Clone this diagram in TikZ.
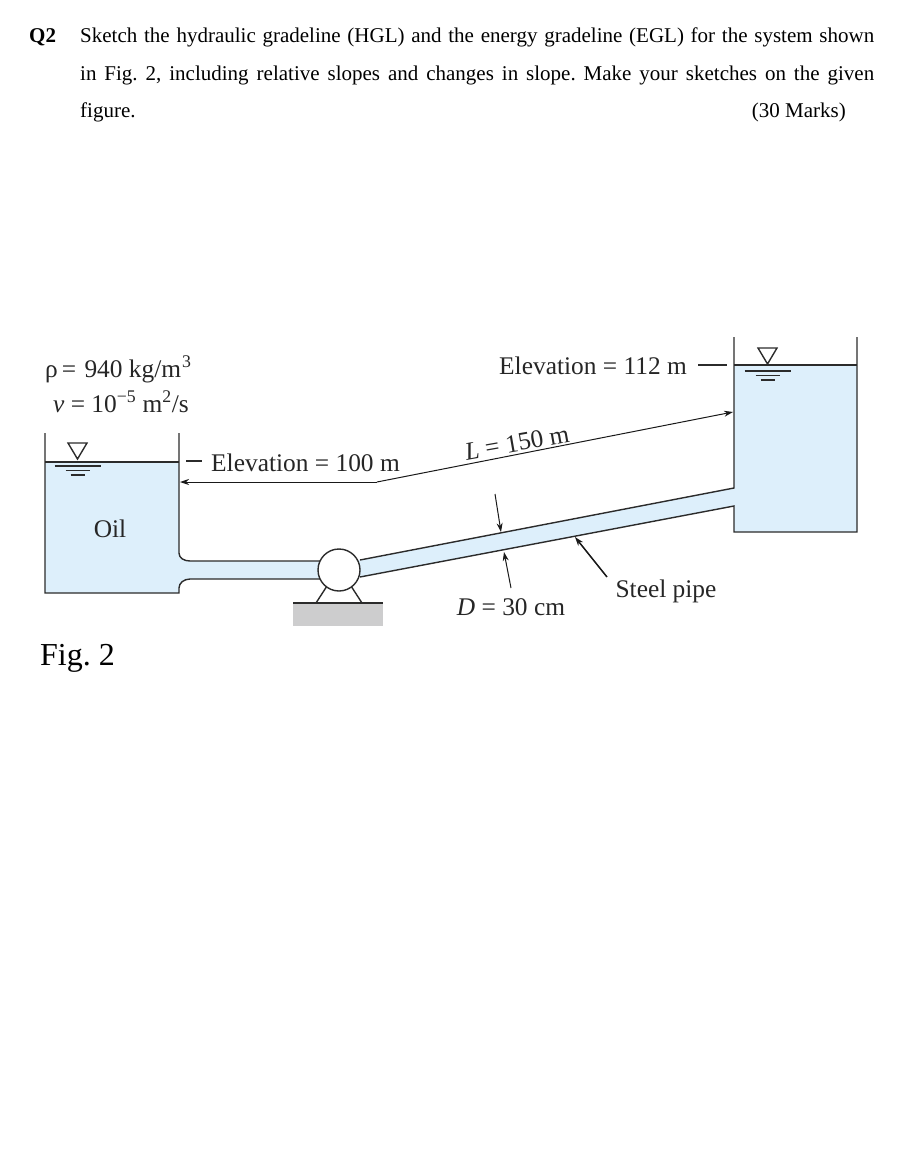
\documentclass[tikz,border=0pt]{standalone}
\usepackage{fontspec}
\setmainfont{Liberation Serif}
\usepackage[dvipsnames]{xcolor}
\usetikzlibrary{arrows.meta}
\definecolor{oilblue}{HTML}{DDEFFB}
\definecolor{basegray}{HTML}{CDCDCE}
\definecolor{inkline}{HTML}{2B2B2B}
\frenchspacing

\begin{document}
\begin{tikzpicture}[x=1pt,y=-1pt,>={Stealth[length=9pt,width=6pt]},
    wall line/.style={draw=inkline,line width=1.4pt},
    thin line/.style={draw=inkline,line width=1.2pt},
    head line/.style={->,draw=black!90,line width=1pt},
    fig node/.style={inner sep=0pt,font=\fontsize{25.4}{28}\selectfont,text=black!85},
    text node/.style={inner sep=0pt,font=\fontsize{21}{38}\selectfont,anchor=base west},
    pump node/.style={circle,draw=inkline,line width=1.4pt,fill=white,minimum size=42pt,inner sep=0pt}]

            \useasboundingbox (0,0) rectangle (898,1155);

            % question text
            \node[text node] (q) at (29,43) {\textbf{Q2}};
            \node[text node] (lineone) at (80,43) {\hbox to 794pt{Sketch the hydraulic gradeline (HGL) and the energy gradeline (EGL) for the system shown}};
            \node[text node] (linetwo) at (80,81) {\hbox to 794pt{in Fig. 2, including relative slopes and changes in slope. Make your sketches on the given}};
            \node[text node] (linethree) at (80,118) {figure.};
            \node[text node,anchor=base east] (marks) at (846,118) {(30 Marks)};

            % oil fill
            \fill[oilblue] (45,462) -- (179,462) -- (179,553) .. controls (179,558) and (184,561) .. (190,561) -- (339,561) -- (360,560) -- (734,488) -- (734,365) -- (857,365) -- (857,532) -- (734,532) -- (734,506) -- (360,577) -- (339,579) -- (190,579) .. controls (184,579) and (179,583) .. (179,588) -- (179,593) -- (45,593) -- cycle;

            % left tank
            \coordinate (lt) at (45,433);
            \coordinate (rt) at (179,433);
            \coordinate (pipetop) at (339,561);
            \coordinate (pipebot) at (339,579);
            \draw[wall line] (lt) -- (45,593) -- (179,593) -- (179,588) .. controls (179,583) and (184,579) .. (190,579) -- (pipebot);
            \draw[wall line] (rt) -- (179,553) .. controls (179,558) and (184,561) .. (190,561) -- (pipetop);
            \draw[wall line] (45,462) -- (179,462);

            % sloped pipe and right tank
            \draw[wall line] (734,337) -- (734,488) -- (360,560);
            \draw[wall line] (360,577) -- (734,506) -- (734,532) -- (857,532) -- (857,337);
            \draw[wall line] (734,365) -- (857,365);

            % pump on its base
            \fill[basegray] (293,603) rectangle (383,626);
            \draw[wall line] (293,603) -- (383,603);
            \draw[wall line] (316,603) -- (327,586);
            \draw[wall line] (362,603) -- (351,586);
            \node[pump node] (pump) at (339,570) {};

            % free surface marks
            \foreach \sx/\sy in {77.5/443,767.5/348} {
                \draw[thin line,line width=1.4pt] (\sx-9.5,\sy) -- (\sx+9.5,\sy) -- (\sx,\sy+16) -- cycle;
                \draw[wall line,line width=2pt] (\sx-23,\sy+23) -- (\sx+23,\sy+23);
                \draw[wall line] (\sx-12,\sy+27.5) -- (\sx+12,\sy+27.5);
                \draw[wall line,line width=2pt] (\sx-7,\sy+32) -- (\sx+7,\sy+32);
            }

            % length line
            \coordinate (bend) at (377,482);
            \coordinate (lefthead) at (180,482);
            \coordinate (righthead) at (733,412);
            \draw[head line] (bend) -- (lefthead);
            \draw[head line] (bend) -- (righthead);

            % labels
            \node[fig node,anchor=base west] (rho) at (45,377) {ρ\kern4pt=\kern2pt\ 940 kg/m\kern1pt\textsuperscript{3}};
            \node[fig node,anchor=base west] (nu) at (53,412) {\textit{v} = 10\textsuperscript{−5} m\textsuperscript{2}/s};
            \node[fig node,anchor=base west] (elevlow) at (211,471) {Elevation = 100 m};
            \node[fig node,anchor=base west] (elevhigh) at (499,374) {Elevation = 112 m};
            \node[fig node] (oil) at (110,529) {Oil};
            \node[fig node,rotate=10] (len) at (517,443) {\textit{L} = 150 m};
            \node[fig node] (dia) at (511,607) {\textit{D} = 30 cm};
            \node[fig node] (steel) at (666,591) {Steel pipe};
            \node[inner sep=0pt,font=\fontsize{32}{36}\selectfont,anchor=base west] (figlabel) at (40,665) {Fig. 2};

            % ticks and pointers
            \coordinate (lowtick) at (186,461);
            \coordinate (lowtickend) at (202,461);
            \coordinate (hightick) at (698,365);
            \coordinate (hightickend) at (727,365);
            \draw[thin line] (lowtick) -- (lowtickend);
            \draw[thin line] (hightick) -- (hightickend);

            \coordinate (dtopfrom) at (495,494);
            \coordinate (dtopto) at (501,532);
            \coordinate (dbotfrom) at (511,588);
            \coordinate (dbotto) at (504,552);
            \coordinate (steelfrom) at (607,577);
            \coordinate (steelto) at (575,537);
            \draw[head line] (dtopfrom) -- (dtopto);
            \draw[head line] (dbotfrom) -- (dbotto);
            \draw[head line,line width=1.5pt] (steelfrom) -- (steelto);
        \end{tikzpicture}
\end{document}
